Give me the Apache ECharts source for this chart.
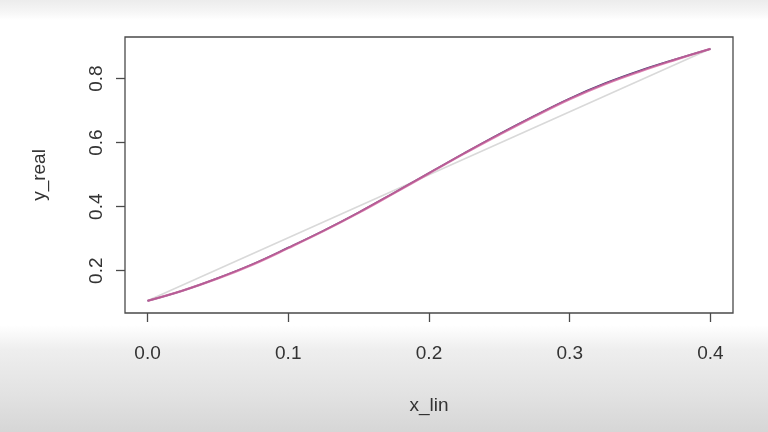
<!DOCTYPE html>
<html>
<head>
<meta charset="utf-8">
<script src="https://cdn.jsdelivr.net/npm/echarts@6/dist/echarts.min.js"></script>
<style>
html,body{margin:0;padding:0;}
body{width:768px;height:432px;background:linear-gradient(to bottom,#ececec 0px,#f6f6f6 12px,#ffffff 20px,#ffffff 325px,#eeeeee 350px,#e2e2e2 395px,#d6d6d6 432px);}
#chart{width:768px;height:432px;}
</style>
</head>
<body>
<div id="chart"></div>
<script>
// x values and curve readings
const xVals = [0, 0.025, 0.05, 0.075, 0.1, 0.125, 0.15, 0.175, 0.2, 0.225, 0.25, 0.275, 0.3, 0.325, 0.35, 0.375, 0.4];
const yModel = [0.106, 0.138, 0.177, 0.221, 0.272, 0.325, 0.382, 0.443, 0.505, 0.567, 0.627, 0.684, 0.738, 0.785, 0.825, 0.860, 0.893];
const yFit   = [0.106, 0.138, 0.176, 0.220, 0.271, 0.324, 0.381, 0.442, 0.504, 0.566, 0.625, 0.682, 0.736, 0.783, 0.823, 0.859, 0.893];
const lineX = [0, 0.4];
const lineY = [0.106, 0.893];
const xTicks = [0, 0.1, 0.2, 0.3, 0.4];
const yTicks = [0.2, 0.4, 0.6, 0.8];

const zip = (a, b) => a.map((v, i) => [v, b[i]]);
const font = 'Liberation Sans, Arial, sans-serif';

const chart = echarts.init(document.getElementById('chart'));
chart.setOption({
  backgroundColor: 'transparent',
  animation: false,
  grid: {left: 125, right: 35, top: 37, bottom: 119, show: true, borderColor: '#4a4a4a', borderWidth: 1.3, backgroundColor: '#fff'},
  xAxis: {
    type: 'value', min: -0.016, max: 0.416,
    name: 'x_lin', nameLocation: 'middle', nameGap: 83,
    nameTextStyle: {fontFamily: font, fontSize: 19, color: '#333'},
    axisLine: {show: false, onZero: false},
    splitLine: {show: false},
    axisTick: {show: true, length: 9, lineStyle: {color: '#4a4a4a', width: 1.3}, customValues: xTicks},
    axisLabel: {margin: 31, fontFamily: font, fontSize: 19, color: '#333', customValues: xTicks,
      formatter: v => v.toFixed(1)}
  },
  yAxis: {
    type: 'value', min: 0.068, max: 0.93,
    name: 'y_real', nameLocation: 'middle', nameGap: 76, nameRotate: 90,
    nameTextStyle: {fontFamily: font, fontSize: 19, color: '#333'},
    axisLine: {show: false, onZero: false},
    splitLine: {show: false},
    axisTick: {show: true, length: 9, lineStyle: {color: '#4a4a4a', width: 1.3}, customValues: yTicks},
    axisLabel: {margin: 19, rotate: 90, fontFamily: font, fontSize: 19, color: '#333', customValues: yTicks,
      formatter: v => v.toFixed(1)}
  },
  series: [
    {type: 'line', data: zip(lineX, lineY), symbol: 'none', lineStyle: {color: '#d9d9d9', width: 1.6}},
    {type: 'line', data: zip(xVals, yModel), symbol: 'none', smooth: 0.4, lineStyle: {color: '#3c3a6e', width: 1.8}},
    {type: 'line', data: zip(xVals, yFit), symbol: 'none', smooth: 0.4, lineStyle: {color: '#d6649f', width: 2.4, opacity: 0.8}}
  ]
});
</script>
</body>
</html>
